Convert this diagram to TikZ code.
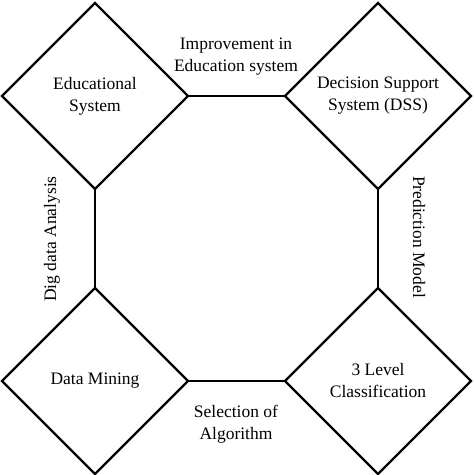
\documentclass[tikz,border=0pt]{standalone}
\usepackage{fontspec}
\setmainfont{Liberation Serif}
\usetikzlibrary{shapes.geometric}
\begin{document}
\begin{tikzpicture}[x=1bp,y=-1bp,
  box/.style={draw, line width=2.2bp, shape=diamond, aspect=1, minimum width=186bp, minimum height=186bp, inner sep=0pt, outer sep=0pt, align=center, font=\fontsize{17.5bp}{22bp}\selectfont},
  lab/.style={align=center, inner sep=0pt, font=\fontsize{17.5bp}{22bp}\selectfont},
  link/.style={line width=2.2bp}]
\useasboundingbox (0,0) rectangle (474,475);
\node[box] (es) at (95,96) {Educational\\System};
\node[box] (dss) at (378,96) {Decision Support\\System (DSS)};
\node[box] (dm) at (95,381) {Data Mining};
\node[box] (cl) at (378,381) {3 Level\\Classification};
\draw[link] (es.east) -- (dss.west);
\draw[link] (es.south) -- (dm.north);
\draw[link] (dss.south) -- (cl.north);
\draw[link] (dm.east) -- (cl.west);
\node[lab] (l1) at (236,57) {Improvement in\\Education system};
\node[lab] (l2) at (236,424) {Selection of\\Algorithm};
\node[lab, rotate=90] (l3) at (52,239) {Dig data Analysis};
\node[lab, rotate=-90] (l4) at (419,237) {Prediction Model};
\end{tikzpicture}
\end{document}
